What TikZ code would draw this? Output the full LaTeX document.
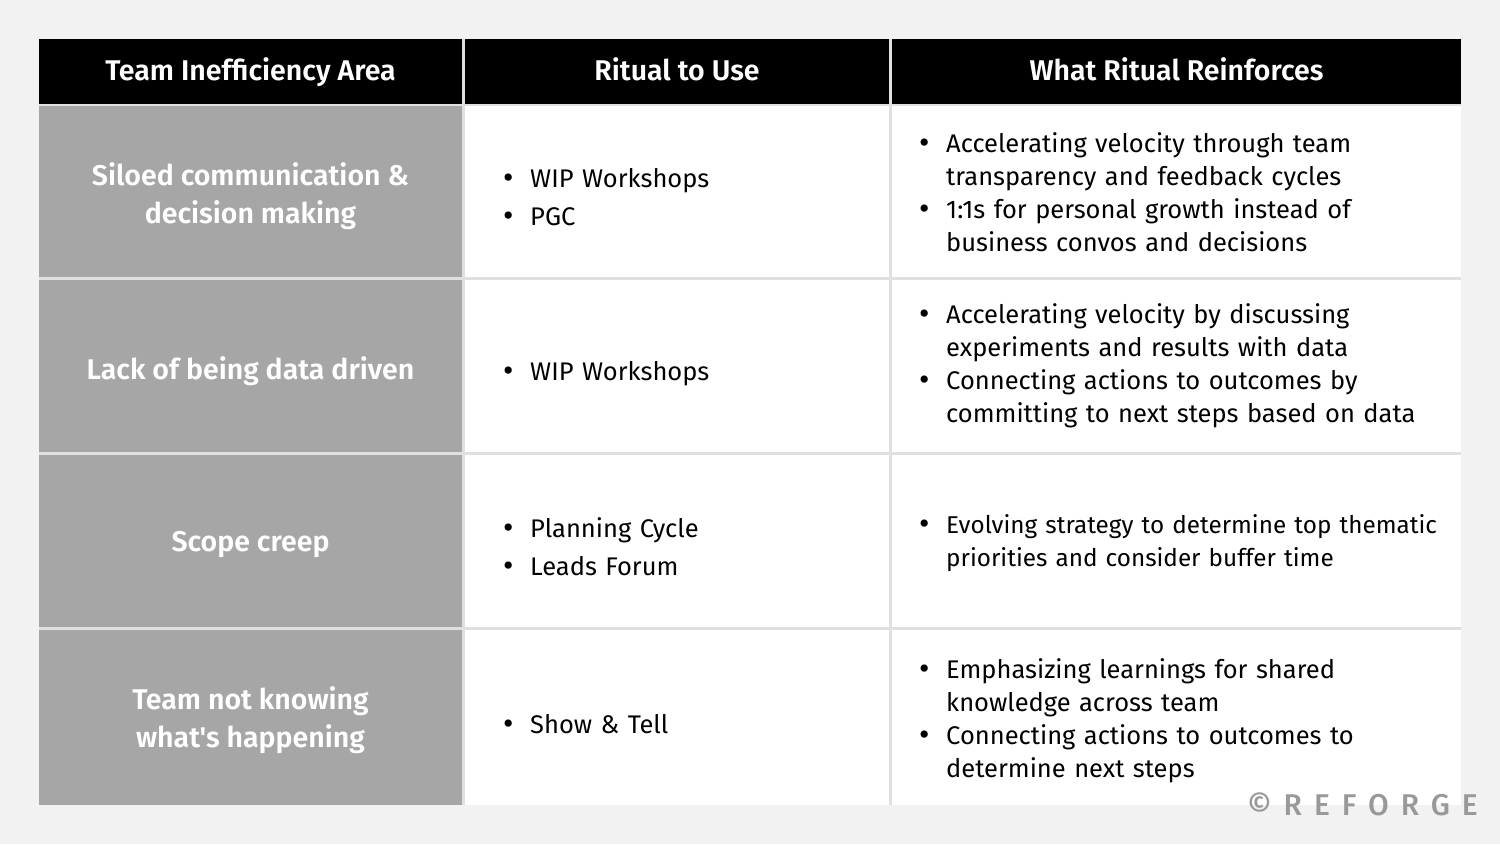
\documentclass[tikz,border=0pt]{standalone}
\usepackage{fontspec}
\setmainfont{Fira Sans}
\newfontfamily\hd{Fira Sans SemiBold}
\newfontfamily\logofont{Fira Sans Medium}
\begin{document}
\begin{tikzpicture}[x=1pt,y=-1pt,
  hdr/.style={fill=black,draw=none},
  lcell/.style={fill=black!35,draw=none},
  wcell/.style={fill=white,draw=none},
  htxt/.style={text=white,font=\hd\fontsize{28.5}{31}\selectfont,align=center,anchor=base},
  ltxt/.style={text=white,font=\hd\fontsize{28.5}{38}\selectfont,align=center},
  btxt/.style={font=\fontsize{25.5}{33}\selectfont,text width=#1,align=left,inner sep=0pt},
  btxt/.default=420pt]
\fill[black!5] (0,0) rectangle (1500,844);
\fill[black!12] (39,39) rectangle (1461,805);
% header
\fill[hdr] (39,39) rectangle (462,104);
\fill[hdr] (465,39) rectangle (889,104);
\fill[hdr] (892,39) rectangle (1461,104);
\node[htxt] (h1) at (250.5,80) {Team Inefficiency Area};
\node[htxt] (h2) at (677,80) {Ritual to Use};
\node[htxt] (h3) at (1176.5,80) {What Ritual Reinforces};
% rows
\foreach \a/\b in {106/277,280/452,455/627,630/805}{
  \fill[lcell] (39,\a) rectangle (462,\b);
  \fill[wcell] (465,\a) rectangle (889,\b);
  \fill[wcell] (892,\a) rectangle (1461,\b);
}
\newcommand{\bl}[1]{\par\noindent\hyphenpenalty=10000\hangindent=27pt\hangafter=1\makebox[27pt][l]{\raisebox{-1pt}{\fontsize{32}{0}\selectfont\textbullet}}#1\par}
\node[ltxt] (l1) at (250.5,196) {Siloed communication \&\\decision making};
\node[ltxt] (l2) at (250.5,371) {Lack of being data driven};
\node[ltxt] (l3) at (250.5,545) {Scope creep};
\node[ltxt] (l4) at (250.5,720) {Team not knowing\\what's happening};
\node[btxt=350pt,anchor=west,font=\fontsize{25.5}{38}\selectfont] (r1) at (503,188) {\bl{WIP Workshops}\bl{PGC}};
\node[btxt=350pt,anchor=west] (r2) at (503,367) {\bl{WIP Workshops}};
\node[btxt=350pt,anchor=west,font=\fontsize{25.5}{38}\selectfont] (r3) at (503,538) {\bl{Planning Cycle}\bl{Leads Forum}};
\node[btxt=350pt,anchor=west] (r4) at (503,717) {\bl{Show \& Tell}};
\node[btxt=530pt,anchor=west] (w1) at (919,186) {\bl{Accelerating velocity through team transparency and feedback cycles}\bl{1:1s for personal growth instead of business convos and decisions}};
\node[btxt=530pt,anchor=west] (w2) at (919,359) {\bl{Accelerating velocity by discussing experiments and results with data}\bl{Connecting actions to outcomes by committing to next steps based on data}};
\node[btxt=530pt,anchor=west,font=\fontsize{24.3}{33}\selectfont] (w3) at (919,536) {\bl{Evolving strategy to determine top thematic priorities and consider buffer time}};
\node[btxt=530pt,anchor=west] (w4) at (919,714) {\bl{Emphasizing learnings for shared knowledge across team}\bl{Connecting actions to outcomes to determine next steps}};
\node[text=black!40,font=\logofont\fontsize{21}{21}\selectfont,anchor=east,inner sep=0pt] (logo) at (1478,804) {\fontsize{30}{30}\selectfont©\hspace{12pt}\addfontfeature{LetterSpace=40}REFORGE};
\end{tikzpicture}
\end{document}
